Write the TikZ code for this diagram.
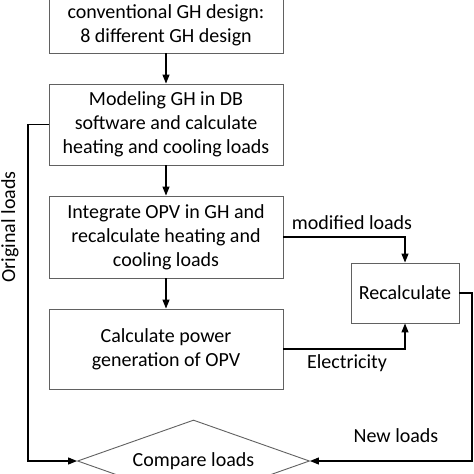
\documentclass[tikz,border=0pt]{standalone}
\usepackage{fontspec}
\setmainfont{Carlito}
\usetikzlibrary{shapes.geometric,arrows.meta}
\begin{document}
\begin{tikzpicture}[x=1pt,y=-1pt,
  every node/.style={font=\fontsize{20}{24}\selectfont},
  stepbox/.style={draw=black!62,line width=0.9pt,minimum width=234pt,align=center,inner sep=0pt},
  decide/.style={draw=black!62,line width=0.9pt,diamond,aspect=2.83,minimum width=232pt,minimum height=82pt,inner sep=0pt},
  conn/.style={line width=1.2pt,-{Triangle[length=9pt,width=7pt]}},
  lbl/.style={inner sep=0pt}]
\useasboundingbox (0,0) rectangle (474,474);
\fill[white] (0,0) rectangle (474,474);
\node[stepbox,minimum height=83pt] (b1) at (166,11.5) {\strut\\[-0pt]conventional GH design:\\8 different GH design};
\node[stepbox,minimum height=81pt] (b2) at (166,124.5) {Modeling GH in DB\\software and calculate\\heating and cooling loads};
\node[stepbox,minimum height=82pt] (b3) at (166,237) {Integrate OPV in GH and\\recalculate heating and\\cooling loads};
\node[stepbox,minimum height=80pt] (b4) at (166,349) {Calculate power\\generation of OPV};
\node[stepbox,minimum width=108pt,minimum height=60pt] (rc) at (405,293) {Recalculate};
\node[decide] (cmp) at (193.5,461) {Compare loads};
\coordinate (lc) at (28,124.5);
\coordinate (rcn) at (472,293);
\draw[conn] (b1) -- (b2);
\draw[conn] (b2) -- (b3);
\draw[conn] (b3) -- (b4);
\draw[conn] (b2.west) -- (lc) |- (cmp.west);
\draw[conn] (b3.east) -| (rc.north);
\draw[conn] (b4.east) -| (rc.south);
\draw[conn] (rc.east) -- (rcn) |- (cmp.east);
\node[lbl,rotate=90] (lo) at (10,227) {Original loads};
\node[lbl] (lm) at (352,223) {modified loads};
\node[lbl] (le) at (347,363) {Electricity};
\node[lbl] (ln) at (396,436) {New loads};
\end{tikzpicture}
\end{document}
